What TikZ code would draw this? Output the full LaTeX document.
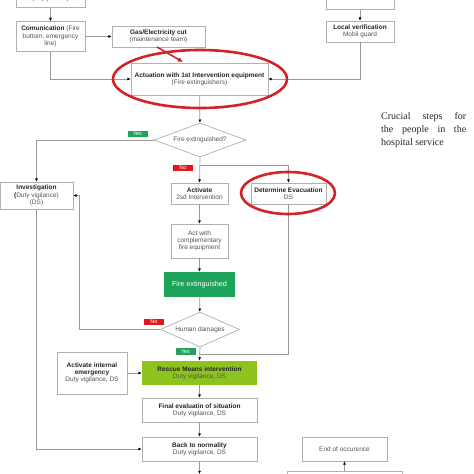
\documentclass[tikz,border=0pt]{standalone}
\usepackage{fontspec}
\setmainfont{Liberation Serif}
\newfontfamily\diagfont{Liberation Sans}
\usepackage{tikz}
\usetikzlibrary{shapes.geometric,arrows.meta}
\definecolor{boxline}{HTML}{B0B0B0}
\definecolor{wireline}{HTML}{9A9A9A}
\definecolor{subgray}{HTML}{555555}
\definecolor{okgreen}{HTML}{1FA35A}
\definecolor{nored}{HTML}{E3161E}
\definecolor{rescgreen}{HTML}{8DC21F}
\definecolor{markred}{HTML}{D2232A}
\newcommand{\subtext}[1]{\textcolor{subgray}{#1}}

\begin{document}
\begin{tikzpicture}[x=1pt,y=-1pt,
  step_box/.style={rectangle,draw=boxline,line width=0.7pt,fill=white,inner sep=1pt,align=center,
    font=\diagfont\fontsize{6.5}{7.3}\selectfont,text=black!85},
  dec_node/.style={diamond,draw=boxline,line width=0.7pt,fill=white,inner sep=0pt,
    font=\diagfont\fontsize{6.5}{7.3}\selectfont,text=subgray},
  tag_node/.style={rectangle,inner sep=0pt,minimum width=20pt,minimum height=6.5pt,text=white,
    font=\diagfont\fontsize{5.5}{6}\selectfont},
  wire/.style={draw=wireline,line width=0.7pt},
  to_arrow/.style={wire,-{Latex[length=3.2pt,width=3pt,color=black]}},
  mark_ring/.style={draw=markred,line width=2.6pt}]
  \clip (0,0) rectangle (474,474);
  \fill[white] (0,0) rectangle (474,474);
  % top row
  \node[step_box,minimum width=69pt,minimum height=20pt] (anyp) at (50.5,-2.5) {\mbox{}\\\subtext{(any person)}};
  \node[step_box,minimum width=68pt,minimum height=22pt] (topr) at (360,-2) {};
  \node[step_box,minimum width=69pt,minimum height=30pt] (comm) at (50.5,36.5) {\textbf{Comunication} \subtext{(Fire}\\\subtext{buttom, emergency}\\\subtext{line)}};
  \node[step_box,minimum width=93pt,minimum height=21pt] (gas) at (158.5,36.5) {\textbf{Gas/Electricity cut}\\\subtext{(maintenance team)}};
  \node[step_box,minimum width=68pt,minimum height=21pt] (locv) at (360,31.5) {\textbf{Local verification}\\\subtext{Mobil guard}};
  \node[step_box,minimum width=137pt,minimum height=32pt] (act1) at (199.5,79) {\textbf{Actuation with 1st Intervention equipment}\\\subtext{(Fire extinguishers)}};
  % first decision
  \node[dec_node,aspect=2.7,minimum width=92pt,minimum height=34pt] (qfire) at (200,140) {Fire extinguished?};
  \node[tag_node,fill=okgreen] (yes1) at (137.5,134) {Yes};
  \node[tag_node,fill=nored] (no1) at (183,168) {No};
  \coordinate (splitno) at ([yshift=-8pt]qfire.south);
  \node[step_box,minimum width=73pt,minimum height=27pt] (inv) at (36.5,195.5) {\textbf{Investigation}\\\textbf{(}\subtext{Duty vigilance)}\\\subtext{(DS)}};
  \node[step_box,minimum width=57pt,minimum height=21pt] (act2) at (199.5,193.5) {\textbf{Activate}\\\subtext{2sd Intervention}};
  \node[step_box,minimum width=75pt,minimum height=21pt] (devac) at (288.5,193.5) {\textbf{Determine Evacuation}\\\subtext{DS}};
  \node[step_box,minimum width=57pt,minimum height=34pt] (actc) at (199.5,241) {\subtext{Act with}\\\subtext{complementary}\\\subtext{fire equipment}};
  \node[step_box,draw=none,fill=okgreen,text=white,minimum width=71pt,minimum height=25pt,font=\diagfont\fontsize{7.2}{8}\selectfont] (fext) at (199.5,284.5) {Fire extinguished};
  % second decision
  \node[dec_node,aspect=2.26,minimum width=79pt,minimum height=35pt] (qhum) at (200,329.5) {Human damages};
  \node[tag_node,fill=nored] (no2) at (154,322) {No};
  \node[tag_node,fill=okgreen] (yes2) at (185.5,351.5) {Yes};
  \coordinate (backup) at (79,329.5);
  \coordinate (joinyes) at ([yshift=-7pt]qhum.south);
  \node[step_box,draw=none,fill=rescgreen,minimum width=115pt,minimum height=24pt] (resc) at (199.5,373) {\textbf{Rescue Means intervention}\\\subtext{Duty vigilance, DS}};
  \node[step_box,minimum width=70pt,minimum height=42pt] (aint) at (92,373) {\textbf{Activate internal}\\\textbf{emergency}\\\subtext{Duty vigilance, DS}};
  \node[step_box,minimum width=115pt,minimum height=24pt] (feval) at (199.5,410) {\textbf{Final evaluatin of situation}\\\subtext{Duty vigilance, DS}};
  \node[step_box,minimum width=115pt,minimum height=24pt] (back) at (199.5,449) {\textbf{Back to normality}\\\subtext{Duty vigilance, DS}};
  \node[step_box,minimum width=85pt,minimum height=24pt] (endo) at (344.5,449) {\subtext{End of occurence}};
  \node[step_box,minimum width=115pt,minimum height=30pt] (ratif) at (344.5,486) {};
  \coordinate (nextstep) at (199.5,474);
  % caption
  \node[anchor=north west,inner sep=0pt,text width=85pt,align=justify,font=\fontsize{10}{12.7}\selectfont,text=black!85] (capt) at (381,112.5)
    {Crucial steps for\linebreak the people in the\linebreak hospital service};
  % connectors
  \draw[to_arrow] (anyp) -- (comm);
  \draw[to_arrow] (topr) -- (locv);
  \draw[to_arrow] (comm) -- (gas);
  \draw[to_arrow] (comm.south) |- (act1.west);
  \draw[to_arrow] (locv.south) |- (act1.east);
  \draw[to_arrow] (act1) -- (qfire);
  \draw[to_arrow] (qfire.west) -| (inv.north);
  \draw[to_arrow] (qfire.south) -- (act2.north);
  \draw[to_arrow] (splitno) -| (devac.north);
  \draw[to_arrow] (act2) -- (actc);
  \draw[to_arrow] (actc) -- (fext);
  \draw[to_arrow] (fext) -- (qhum);
  \draw[to_arrow] (qhum.west) -- (backup) |- (inv.east);
  \draw[to_arrow] (qhum.south) -- (resc.north);
  \draw[wire] (devac.south) |- (joinyes);
  \draw[to_arrow] (aint) -- (resc);
  \draw[to_arrow] (resc) -- (feval);
  \draw[to_arrow] (feval) -- (back);
  \draw[to_arrow] (inv.south) |- (back.west);
  \draw[to_arrow] (back.south) -- (nextstep);
  \draw[to_arrow] (ratif.north) -- (endo.south);
  % highlights
  \coordinate (redfrom) at (157,47);
  \coordinate (redto) at (183,62);
  \draw[draw=markred,line width=1.6pt,-{Latex[length=5pt,width=5pt]}] (redfrom) -- (redto);
  \draw[mark_ring] (200,79) ellipse (87 and 29);
  \draw[mark_ring] (288,193) ellipse (47 and 21);
\end{tikzpicture}
\end{document}
